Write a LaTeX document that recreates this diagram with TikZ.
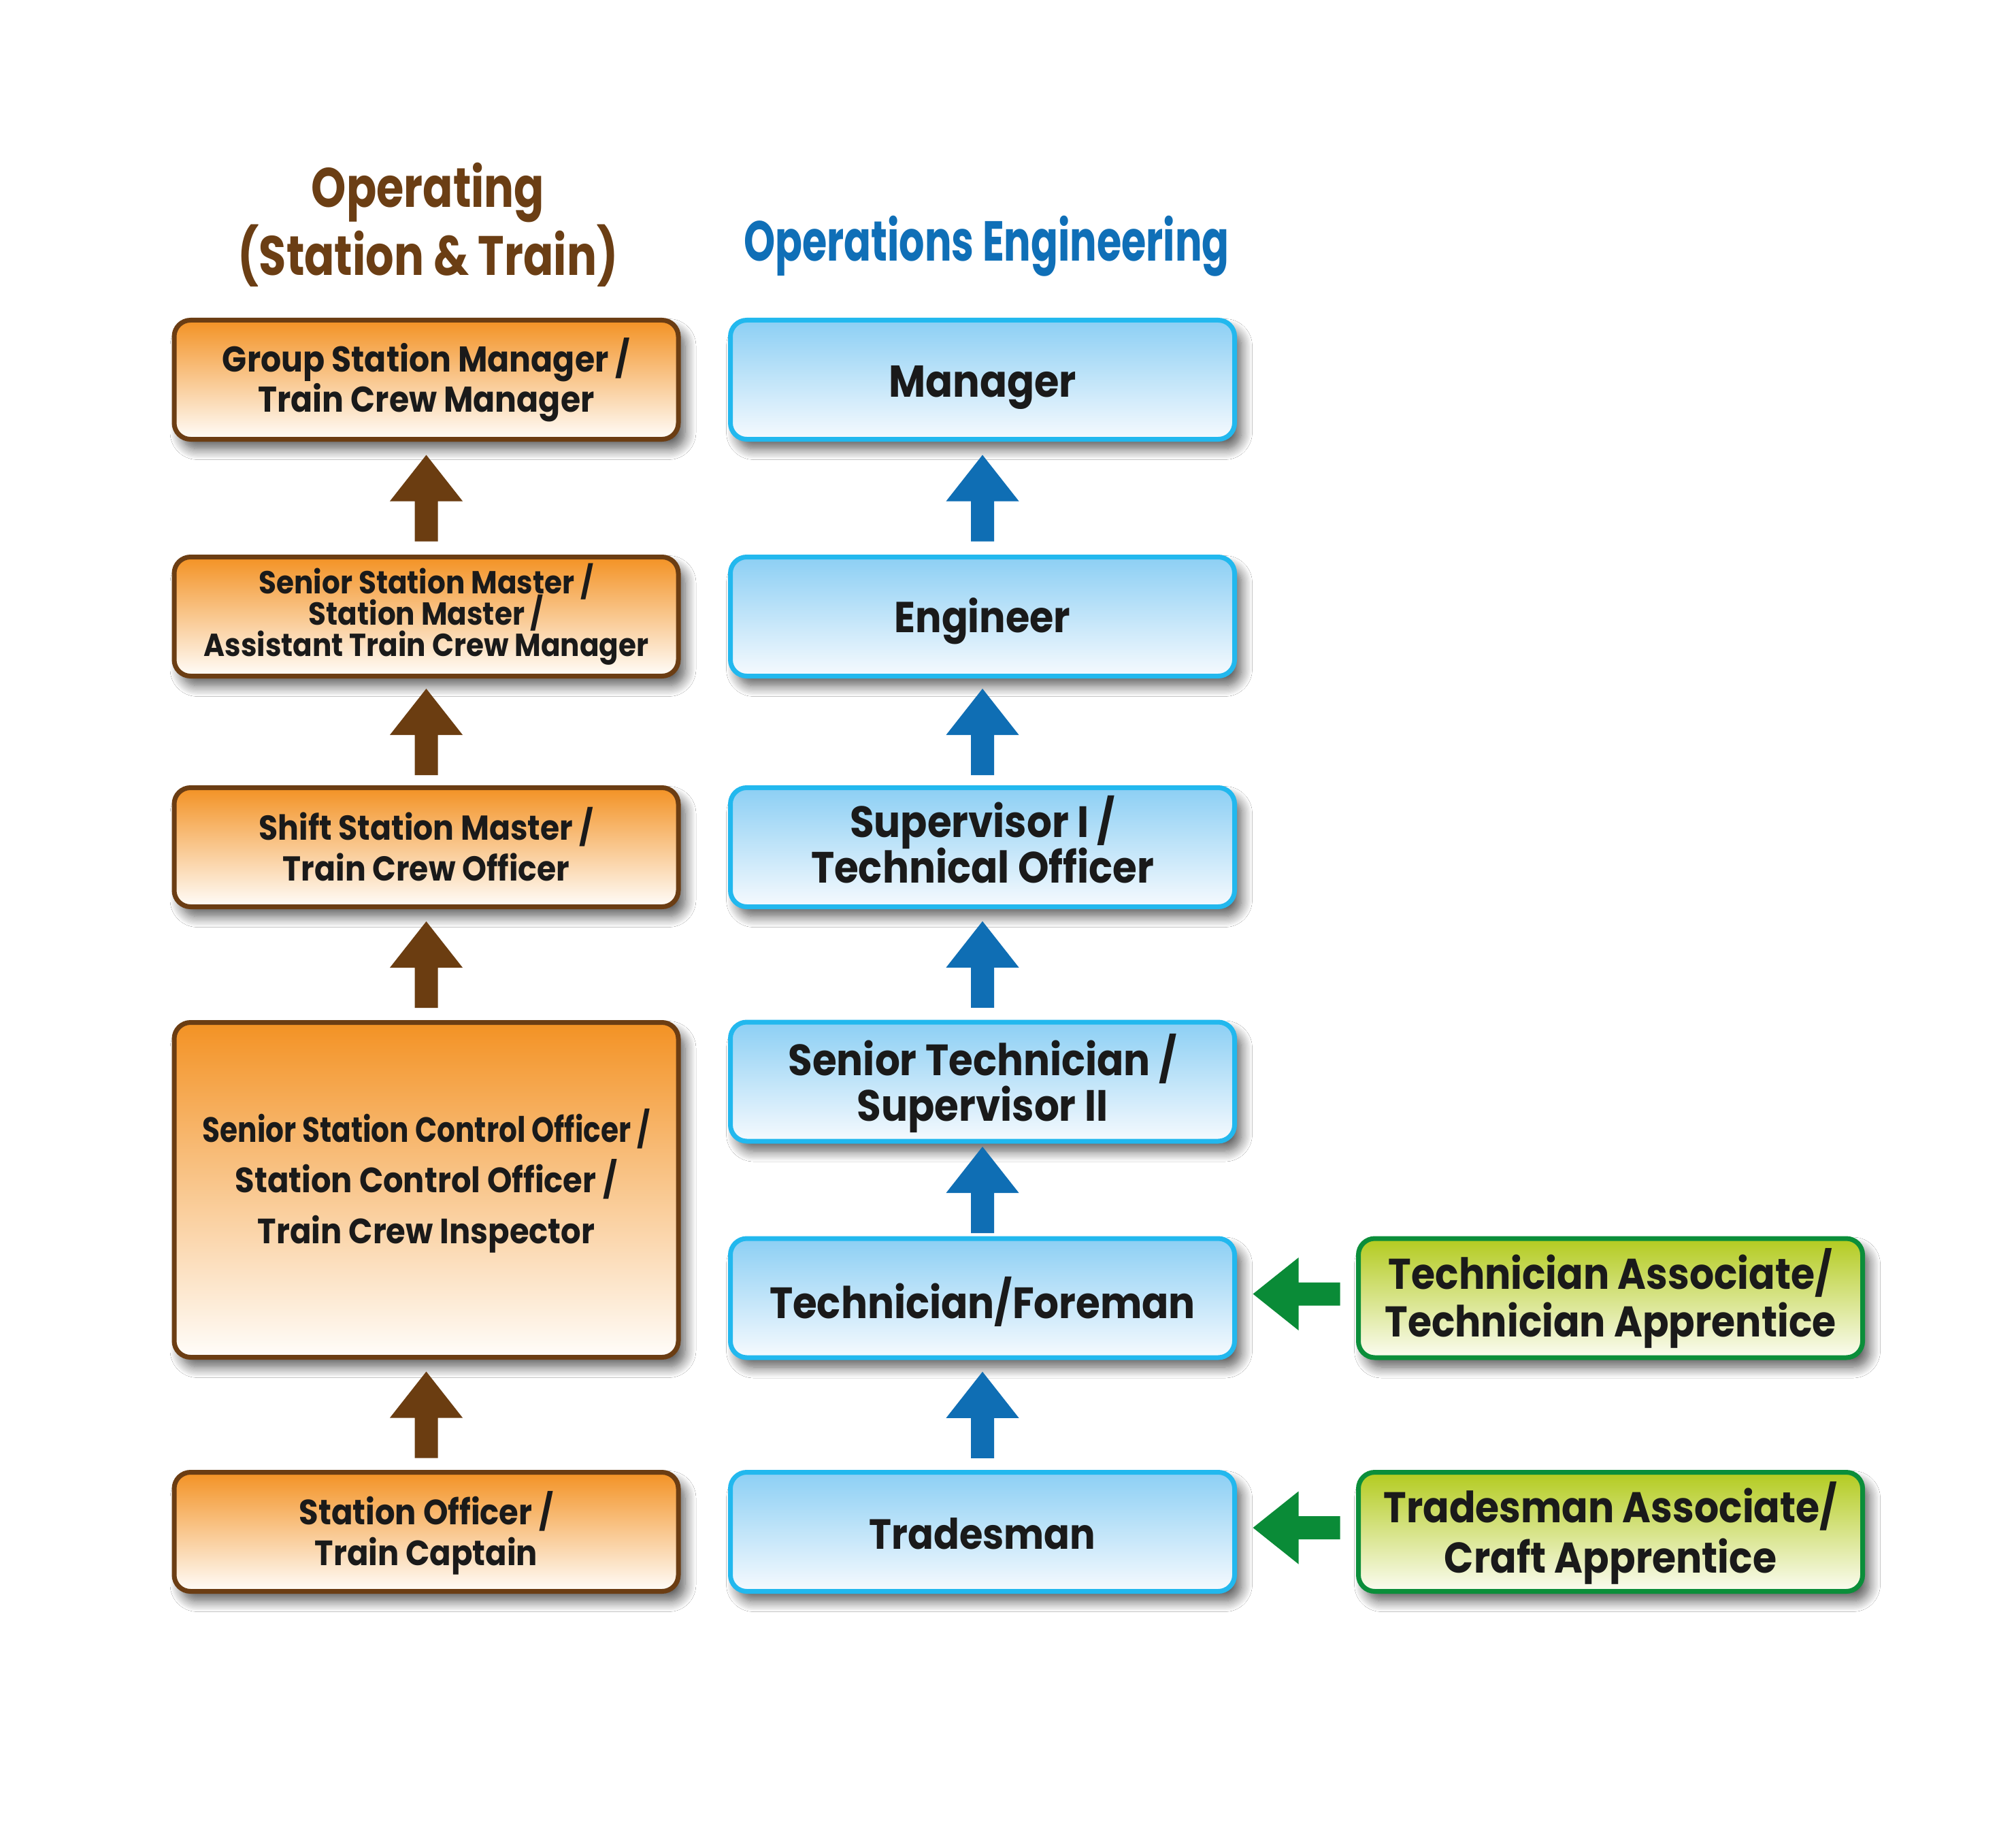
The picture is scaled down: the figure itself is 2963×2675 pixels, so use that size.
\documentclass[tikz,border=0pt]{standalone}
\usepackage{fontspec}
\setmainfont{Poppins}[FakeStretch=0.9]
\newfontfamily\titlefont{Poppins}[FakeStretch=0.8]
\newfontfamily\titlefontb{Poppins}[FakeStretch=0.71]
\usetikzlibrary{calc,shadows.blur}
\definecolor{obrd}{HTML}{6B3D13}
\definecolor{otop}{HTML}{F39224}
\definecolor{obot}{HTML}{FFFDFA}
\definecolor{bbrd}{HTML}{22B8EE}
\definecolor{btop}{HTML}{8CCFF4}
\definecolor{bbot}{HTML}{F6FAFE}
\definecolor{gbrd}{HTML}{0B8E3A}
\definecolor{gtop}{HTML}{B3CB1F}
\definecolor{gbot}{HTML}{FBFCF2}
\definecolor{brnA}{HTML}{6B3D11}
\definecolor{bluA}{HTML}{0F6EB4}
\definecolor{grnA}{HTML}{0A8B37}
\definecolor{ink}{HTML}{1A1A1A}
\definecolor{ttlbrown}{HTML}{6B3E14}
\definecolor{ttlblue}{HTML}{0F6FB7}
\tikzset{
  box/.style={rounded corners=6pt, line width=1.75pt, minimum width=185.25pt,
    minimum height=43.75pt, inner sep=0pt,
    blur shadow={shadow xshift=2.5pt, shadow yshift=-3.5pt, shadow blur radius=4pt,
      shadow blur steps=14, shadow opacity=65}},
  obox/.style={box, draw=obrd, top color=otop, bottom color=obot},
  bbox/.style={box, draw=bbrd, top color=btop, bottom color=bbot},
  gbox/.style={box, draw=gbrd, top color=gtop, bottom color=gbot},
  lbl/.style 2 args={anchor=base, inner sep=0pt, align=center, text=ink,
    font={\bfseries\fontsize{#1}{#2}\selectfont\lineskiplimit=-20pt\lineskip=0pt}},
  ttl/.style 2 args={anchor=base, inner sep=0pt, align=center,
    font=\titlefont\bfseries\fontsize{#1}{#2}\selectfont},
}
\newcommand\uparr[3]{%
  \begin{scope}[shift={($(#2.north)!0.5!(#3.south)$)}]
    \fill[#1] (0,-63.5) -- (53.5,4.5) -- (17,4.5) -- (17,63.5) -- (-17,63.5)
      -- (-17,4.5) -- (-53.5,4.5) -- cycle;
  \end{scope}}
\newcommand\leftarr[3]{%
  \begin{scope}[shift={($(#2.east)!0.5!(#3.west)+(0,-6)$)}]
    \fill[#1] (-64,0) -- (3,-53.5) -- (3,-17) -- (64,-17) -- (64,17) -- (3,17)
      -- (3,53.5) -- cycle;
  \end{scope}}
\begin{document}
\begin{tikzpicture}[x=0.25pt,y=-0.25pt]
\fill[white] (0,0) rectangle (2963,2675);
\useasboundingbox (0,0) rectangle (2963,2675);

% titles (anchor = baseline of last line)
\node[ttl={20.4}{24}, text=ttlbrown] (ttlop) at (629,405) {Operating\\(Station \& Train)};
\node[ttl={20.7}{24}, text=ttlblue, font=\titlefontb\bfseries\fontsize{20.7}{24}\selectfont] (ttleng) at (1450,384) {Operations Engineering};

% left column
\node[obox] (gsm) at (626.5,558) {};
\node[obox] (ssm) at (626.5,906) {};
\node[obox] (shm) at (626.5,1245) {};
\node[obox, minimum height=123pt] (sco) at (626.5,1748.5) {};
\node[obox] (so) at (626.5,2251) {};

% middle column
\node[bbox] (mgr) at (1444,558) {};
\node[bbox] (eng) at (1444,906) {};
\node[bbox] (sup) at (1444,1245) {};
\node[bbox] (stec) at (1444,1589.5) {};
\node[bbox] (tech) at (1444,1907.5) {};
\node[bbox] (trd) at (1444,2251) {};

% right column
\node[gbox] (ta) at (2367,1907.5) {};
\node[gbox] (tra) at (2367,2251) {};

% texts (anchor = baseline of last line)
\node[lbl={13.15}{14.75}] (gsm-t) at (626.5,605) {Group Station Manager /\\Train Crew Manager};
\node[lbl={11.7}{11.4}] (ssm-t) at (626.5,964) {Senior Station Master /\\Station Master /\\Assistant Train Crew Manager};
\node[lbl={12.7}{15}] (shm-t) at (626.5,1294) {Shift Station Master /\\Train Crew Officer};
\node[lbl={12.9}{18.6}] (sco-t) at (626.5,1827) {\scalebox{0.91}[1]{Senior Station Control Officer /}\\Station Control Officer /\\Train Crew Inspector};
\node[lbl={12.9}{15}] (so-t) at (626.5,2300) {Station Officer /\\Train Captain};

\node[lbl={16.4}{16.75}] (mgr-t) at (1444,584) {Manager};
\node[lbl={15.9}{16.75}] (eng-t) at (1444,929) {Engineer};
\node[lbl={16.1}{16.75}] (sup-t) at (1444,1297) {Supervisor I /\\Technical Officer};
\node[lbl={16.1}{16.75}] (stec-t) at (1444,1647) {Senior Technician /\\Supervisor II};
\node[lbl={16.1}{16.75}] (tech-t) at (1444,1937) {Technician/Foreman};
\node[lbl={15.5}{16.75}] (trd-t) at (1444,2276) {Tradesman};

\node[lbl={15.8}{17.5}] (ta-t) at (2367,1964) {Technician Associate/\\Technician Apprentice};
\node[lbl={15.8}{18.5}] (tra-t) at (2367,2311) {Tradesman Associate/\\Craft Apprentice};

% arrows
\uparr{brnA}{ssm}{gsm}
\uparr{brnA}{shm}{ssm}
\uparr{brnA}{sco}{shm}
\uparr{brnA}{so}{sco}
\uparr{bluA}{eng}{mgr}
\uparr{bluA}{sup}{eng}
\uparr{bluA}{stec}{sup}
\uparr{bluA}{tech}{stec}
\uparr{bluA}{trd}{tech}
\leftarr{grnA}{tech}{ta}
\leftarr{grnA}{trd}{tra}
\end{tikzpicture}
\end{document}
